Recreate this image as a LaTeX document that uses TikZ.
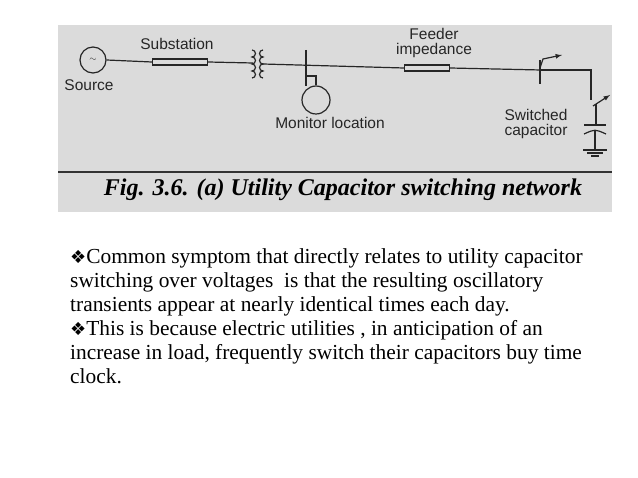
\documentclass[tikz,border=0pt]{standalone}
\usepackage{fontspec}
\setmainfont{Liberation Serif}
\newfontfamily\sansf{Liberation Sans}
\newfontfamily\dejav{DejaVu Sans}
\begin{document}
\begin{tikzpicture}[x=1pt,y=-1pt,
  wire/.style={line width=1.2pt,black!85},
  lbl/.style={font=\sansf\fontsize{15.5}{15.5}\selectfont,text=black!85,inner sep=0pt,align=left},
  bodytxt/.style={font=\fontsize{21.4}{24}\selectfont,anchor=base west,inner sep=0pt}]
\useasboundingbox (0,0) rectangle (638,478);
\fill[white] (0,0) rectangle (638,478);
\fill[gray!28] (58,25) rectangle (612,212);
\draw[black!80,line width=1.5pt] (58,172) -- (612,172);
% source
\node[draw,wire,circle,minimum size=26pt,inner sep=0pt] (src) at (93,60) {\sansf\small$\sim$};
\node[draw,wire,minimum width=55pt,minimum height=6pt,inner sep=0pt] (r1) at (180,62) {};
\coordinate (t1) at (253,63);
\coordinate (t2) at (263,64);
\draw[wire] (src.east) -- (r1.west);
\draw[wire] (r1.east) -- (t1);
\draw[wire] (252,50) arc(-90:90:3.5) arc(-90:90:3.5) arc(-90:90:3.5) arc(-90:90:3.5);
\draw[wire] (263,50) arc(-90:-270:3.5) arc(-90:-270:3.5) arc(-90:-270:3.5) arc(-90:-270:3.5);
% bus 1
\coordinate (b1t) at (306,50); \coordinate (b1b) at (306,86);
\draw[wire] (b1t) -- (b1b);
\node[draw,wire,minimum width=45pt,minimum height=6pt,inner sep=0pt] (r2) at (427,68) {};
\draw[wire] (t2) -- (r2.west);
% monitor
\node[draw,wire,circle,minimum size=28pt,inner sep=0pt] (mon) at (316,100) {};
\draw[wire] (306,76) -- (316,76) -- (mon.north);
% bus 2
\coordinate (b2t) at (540,60); \coordinate (b2b) at (540,84);
\draw[wire] (r2.east) -- (541,70);
\draw[wire] (b2t) -- (b2b);
\draw[wire,-latex] (540,68) -- (543,59) -- (562,55);
\draw[wire] (541,70) -- (591,70) -- (591,100);
\draw[wire,-latex] (593,106) -- (610,95);
\draw[wire] (596,104) -- (596,125);
\draw[wire] (584,125) -- (606,125);
\draw[wire] (584,134) .. controls (595,129) .. (606,134);
\draw[wire] (595,131) -- (595,150);
\draw[wire] (583,150) -- (607,150) (587,153) -- (603,153) (591,156) -- (599,156);
% labels
\node[lbl] (lsub) at (177,44) {Substation};
\node[lbl] (lsrc) at (89,85) {Source};
\node[lbl,align=center] (lfeed) at (434,43) {Feeder\\impedance};
\node[lbl] (lmon) at (330,123) {Monitor location};
\node[lbl,align=center] (lsw) at (536,124) {Switched\\capacitor};
\node[font=\bfseries\itshape\fontsize{24}{26}\selectfont,inner sep=0pt] (cap) at (343,190) {Fig. 3.6. (a) Utility Capacitor switching network};
% body text
\node[bodytxt] (l1) at (70,264) {{\dejav\fontsize{18}{16}\selectfont ❖}Common symptom that directly relates to utility capacitor};
\node[bodytxt] (l2) at (70,288) {switching over voltages\ \ is that the resulting oscillatory};
\node[bodytxt] (l3) at (70,312) {transients appear at nearly identical times each day.};
\node[bodytxt] (l4) at (70,336) {{\dejav\fontsize{18}{16}\selectfont ❖}This is because electric utilities , in anticipation of an};
\node[bodytxt] (l5) at (70,360) {increase in load, frequently switch their capacitors buy time};
\node[bodytxt] (l6) at (70,384) {clock.};
\end{tikzpicture}
\end{document}
